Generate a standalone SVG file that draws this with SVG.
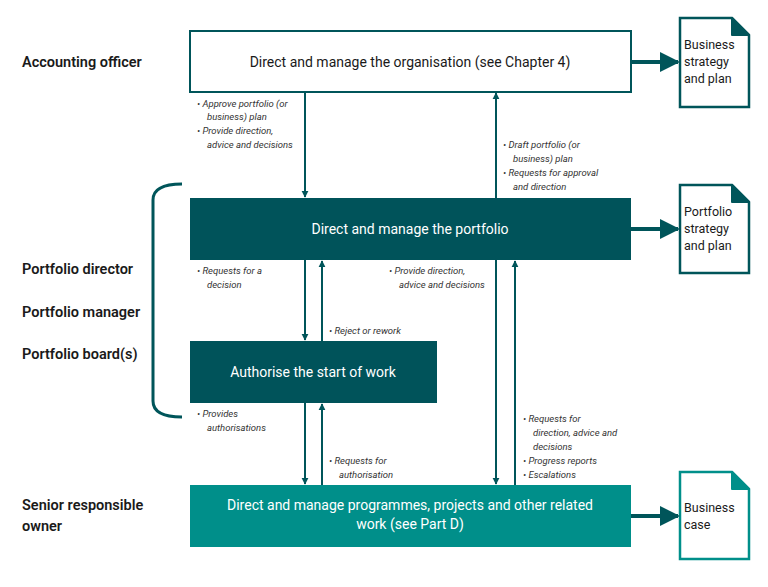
<svg xmlns="http://www.w3.org/2000/svg" width="768" height="587" viewBox="0 0 768 587">
<style>
.t{font-family:Roboto,"Liberation Sans",sans-serif}
.lab{font-family:Roboto,"Liberation Sans",sans-serif;font-size:14.5px;font-weight:600;fill:#1a1a1a}
.n{font-family:Roboto,"Liberation Sans",sans-serif;font-size:9.5px;font-style:italic;fill:#333}
.w{font-family:Roboto,"Liberation Sans",sans-serif;font-size:14px;fill:#fff}
.dt{font-family:Roboto,"Liberation Sans",sans-serif;font-size:12.5px;fill:#1a1a1a}
.c{stroke:#00555a;stroke-width:2;fill:none}
.h{stroke:#00555a;stroke-width:4;fill:none}
.doc{fill:#fff;stroke:#00555a;stroke-width:2.5}
</style>
<defs>
<marker id="a" viewBox="0 0 10 10" refX="9" refY="5" markerWidth="5" markerHeight="5" orient="auto"><path d="M0,0L10,5L0,10z" fill="#00555a"/></marker>
<marker id="b" viewBox="0 0 10 10" refX="9" refY="5" markerWidth="3.5" markerHeight="4" orient="auto"><path d="M0,0L10,5L0,10z" fill="#00555a"/></marker>
</defs>
<rect width="768" height="587" fill="#fff"/>
<text class="lab" x="22" y="67">Accounting officer</text>
<text class="lab" x="22" y="274">Portfolio director</text>
<text class="lab" x="22" y="317">Portfolio manager</text>
<text class="lab" x="22" y="359">Portfolio board(s)</text>
<text class="lab" x="22" y="510">Senior responsible</text>
<text class="lab" x="22" y="531">owner</text>
<path d="M182,184 Q153,184 153,200 L153,401 Q153,417 182,417" class="c" stroke-width="3" style="stroke-width:3"/>
<g id="n1"><rect x="190" y="31" width="441" height="61" fill="#fff" stroke="#00555a" stroke-width="2"/><text class="t" x="410" y="67" text-anchor="middle" font-size="14" fill="#1a1a1a">Direct and manage the organisation (see Chapter 4)</text></g>
<g id="n2"><rect x="190" y="198" width="441" height="62" fill="#00535a"/><text class="w" x="410" y="234" text-anchor="middle">Direct and manage the portfolio</text></g>
<g id="n3"><rect x="190" y="341" width="247" height="62" fill="#00535a"/><text class="w" x="313" y="377" text-anchor="middle">Authorise the start of work</text></g>
<g id="n4"><rect x="190" y="485" width="441" height="62" fill="#008f8a"/><text class="w" x="410" y="510" text-anchor="middle">Direct and manage programmes, projects and other related</text><text class="w" x="410" y="529" text-anchor="middle">work (see Part D)</text></g>
<g id="d1"><path class="doc" d="M680,18 H732 L749,35 V107 H680 Z"/><path d="M732,18 L749,35 H732 Z" fill="#00555a" stroke="#00555a" stroke-width="2" stroke-linejoin="round"/><text class="dt" x="684" y="49">Business</text><text class="dt" x="684" y="66">strategy</text><text class="dt" x="684" y="83">and plan</text></g>
<g id="d2"><path class="doc" d="M680,185 H732 L749,202 V273 H680 Z"/><path d="M732,185 L749,202 H732 Z" fill="#00555a" stroke="#00555a" stroke-width="2" stroke-linejoin="round"/><text class="dt" x="684" y="216">Portfolio</text><text class="dt" x="684" y="233">strategy</text><text class="dt" x="684" y="250">and plan</text></g>
<g id="d3"><path class="doc" d="M680,472 H732 L749,489 V559 H680 Z" style="stroke:#008f8a"/><path d="M732,472 L749,489 H732 Z" fill="#008f8a" stroke="#008f8a" stroke-width="2" stroke-linejoin="round"/><text class="dt" x="684" y="512">Business</text><text class="dt" x="684" y="529">case</text></g>
<g id="connectors">
<path class="c" d="M305,92V197" marker-end="url(#b)"/>
<path class="c" d="M496,198V93" marker-end="url(#b)"/>
<path class="c" d="M305,260V340" marker-end="url(#b)"/>
<path class="c" d="M322,341V261" marker-end="url(#b)"/>
<path class="c" d="M496,260V484" marker-end="url(#b)"/>
<path class="c" d="M515,485V261" marker-end="url(#b)"/>
<path class="c" d="M305,403V484" marker-end="url(#b)"/>
<path class="c" d="M322,485V404" marker-end="url(#b)"/>
<path class="h" d="M631,62H678" marker-end="url(#a)"/>
<path class="h" d="M631,229H678" marker-end="url(#a)"/>
<path class="h" d="M631,516H678" marker-end="url(#a)"/>
</g>
<g id="labels">
<text class="n" x="197" y="107">•  Approve portfolio (or</text><text class="n" x="207" y="120">business) plan</text>
<text class="n" x="197" y="134">•  Provide direction,</text><text class="n" x="207" y="148">advice and decisions</text>
<text class="n" x="503" y="148">•  Draft portfolio (or</text><text class="n" x="513" y="162">business) plan</text>
<text class="n" x="503" y="176">•  Requests for approval</text><text class="n" x="513" y="190">and direction</text>
<text class="n" x="197" y="274">•  Requests for a</text><text class="n" x="207" y="288">decision</text>
<text class="n" x="389" y="274">•  Provide direction,</text><text class="n" x="399" y="288">advice and decisions</text>
<text class="n" x="329" y="334">•  Reject or rework</text>
<text class="n" x="197" y="417">•  Provides</text><text class="n" x="207" y="431">authorisations</text>
<text class="n" x="329" y="464">•  Requests for</text><text class="n" x="339" y="478">authorisation</text>
<text class="n" x="523" y="422">•  Requests for</text><text class="n" x="533" y="436">direction, advice and</text><text class="n" x="533" y="450">decisions</text>
<text class="n" x="523" y="464">•  Progress reports</text>
<text class="n" x="523" y="478">•  Escalations</text>
</g>
</svg>
